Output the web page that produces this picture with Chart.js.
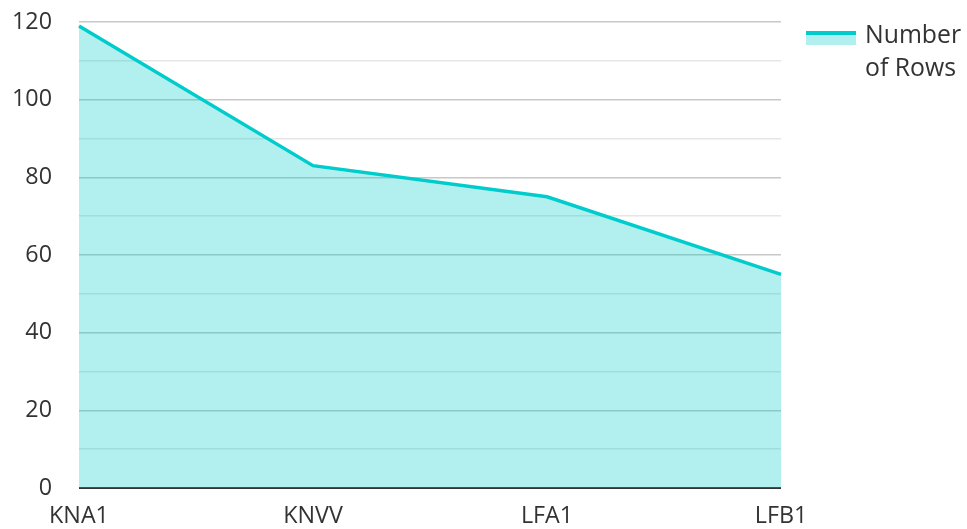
<!DOCTYPE html>
<html>
<head>
<meta charset="utf-8">
<script src="https://cdn.jsdelivr.net/npm/chart.js@4"></script>
<style>
  html, body { margin: 0; padding: 0; background: #fff; }
  #wrap { position: relative; width: 967px; height: 529px; }
  #legend { position: absolute; left: 806px; top: 0; font-family: "Open Sans", sans-serif; font-size: 24.8px; color: #333; line-height: 33px; }
  #legend .box { position: absolute; left: 0; top: 31px; width: 50px; height: 14px; background: rgba(0,204,204,0.3); border-top: 4px solid rgb(0,204,204); box-sizing: border-box; }
  #legend .txt { position: absolute; left: 59px; top: 17px; white-space: nowrap; }
</style>
</head>
<body>
<div id="wrap">
  <canvas id="c" width="967" height="529"></canvas>
  <div id="legend"><div class="box"></div><div class="txt">Number<br>of Rows</div></div>
</div>
<script>
const categories = ["KNA1", "KNVV", "LFA1", "LFB1"];
const rowCounts = [119, 83, 75, 55];
const seriesName = "Number of Rows";
const yMin = 0, yMax = 120, yStep = 10, yLabelStep = 20;

Chart.defaults.font.family = '"Open Sans", sans-serif';
Chart.defaults.color = '#333';

new Chart(document.getElementById('c'), {
  type: 'line',
  data: {
    labels: categories,
    datasets: [{
      label: seriesName,
      data: rowCounts,
      borderColor: 'rgb(0,204,204)',
      backgroundColor: 'rgba(0,204,204,0.3)',
      borderWidth: 3.5,
      fill: 'origin',
      pointRadius: 0,
      tension: 0
    }]
  },
  options: {
    responsive: false,
    animation: false,
    layout: { padding: { left: 0, right: 186, top: 22, bottom: 0 } },
    plugins: { legend: { display: false }, tooltip: { enabled: false } },
    scales: {
      x: {
        offset: false,
        grid: { display: false, drawTicks: false },
        border: { display: false },
        ticks: { font: { size: 23.3 }, color: '#333', padding: 14, maxRotation: 0, autoSkip: false },
        afterFit: s => { s.height = 41; s.paddingLeft = 0; s.paddingRight = 0; }
      },
      y: {
        min: yMin, max: yMax,
        border: { display: false },
        grid: {
          drawTicks: false,
          color: ctx => ctx.tick.value === 0 ? '#333' : (ctx.tick.value % yLabelStep === 0 ? '#c8c8c8' : '#e6e6e6'),
          lineWidth: ctx => ctx.tick.value === 0 ? 2 : (ctx.tick.value % yLabelStep === 0 ? 1.6 : 1.4)
        },
        ticks: {
          stepSize: yStep,
          font: { size: 23.3 },
          color: '#333',
          padding: 27,
          callback: v => (v % yLabelStep === 0 ? v : '')
        },
        afterFit: s => { s.width = 79; s.paddingTop = 0; s.paddingBottom = 0; }
      }
    }
  }
});
</script>
</body>
</html>
